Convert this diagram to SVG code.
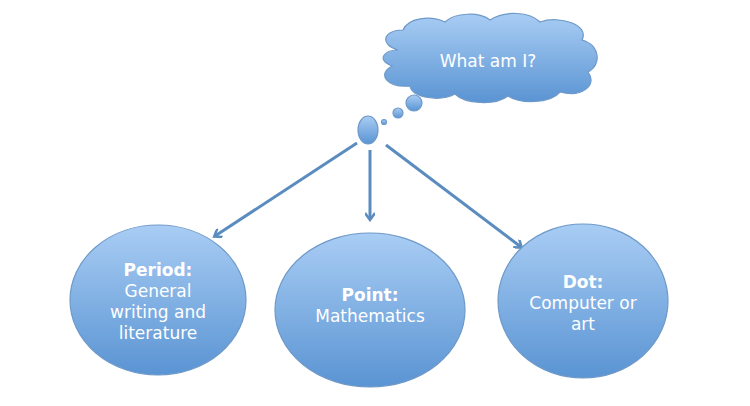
<svg xmlns="http://www.w3.org/2000/svg" width="750" height="406" viewBox="0 0 750 406">
<style>
.n{fill:url(#g);stroke:#6e99c8;stroke-width:1.2}
.t{font-family:"DejaVu Sans",sans-serif;font-size:17px;fill:#fff;text-anchor:middle}
.b{font-weight:bold}
.c{stroke:#5b8cc0;stroke-width:3;fill:none;marker-end:url(#a)}
</style>
<defs>
<linearGradient id="g" x1="0" y1="0" x2="0" y2="1"><stop offset="0" stop-color="#a9cdf4"/><stop offset="1" stop-color="#5a94d3"/></linearGradient>
<marker id="a" markerWidth="10" markerHeight="10" refX="7" refY="5" orient="auto" markerUnits="userSpaceOnUse"><path d="M1,0 L8,5 L1,10" fill="none" stroke="#5b8cc0" stroke-width="2.5"/></marker>
</defs>
<rect width="750" height="406" fill="#fff"/>
<g id="cloud">
<path class="n" d="M398,50 C380,45 382,30 403,30 C408,18 430,15 445,22 C455,12 480,12 490,20 C505,10 530,12 540,22 C560,15 590,25 582,40 C600,45 602,65 588,72 C598,85 582,98 560,92 C550,104 520,104 508,96 C495,106 465,104 455,94 C440,102 412,98 410,86 C388,88 376,75 392,66 C376,60 384,50 398,50 Z"/>
<text class="t" x="488" y="67">What am I?</text>
</g>
<g id="thought">
<circle class="n" cx="414" cy="103" r="8"/>
<circle class="n" cx="398" cy="113" r="5"/>
<circle class="n" cx="384" cy="122" r="2.5"/>
<ellipse class="n" cx="368" cy="130" rx="10" ry="14"/>
</g>
<g id="connectors">
<line class="c" x1="357" y1="143" x2="215" y2="236"/>
<line class="c" x1="370" y1="150" x2="370" y2="219"/>
<line class="c" x1="386" y1="145" x2="521" y2="247"/>
</g>
<g id="period">
<ellipse class="n" cx="158" cy="300" rx="88" ry="75"/>
<text class="t" x="158" y="276"><tspan class="b">Period:</tspan><tspan x="158" dy="21">General</tspan><tspan x="158" dy="21">writing and</tspan><tspan x="158" dy="21">literature</tspan></text>
</g>
<g id="point">
<ellipse class="n" cx="370" cy="310" rx="95" ry="77"/>
<text class="t" x="370" y="301"><tspan class="b">Point:</tspan><tspan x="370" dy="21">Mathematics</tspan></text>
</g>
<g id="dot">
<ellipse class="n" cx="583" cy="301" rx="85" ry="77"/>
<text class="t" x="583" y="288"><tspan class="b">Dot:</tspan><tspan x="583" dy="21">Computer or</tspan><tspan x="583" dy="21">art</tspan></text>
</g>
</svg>
